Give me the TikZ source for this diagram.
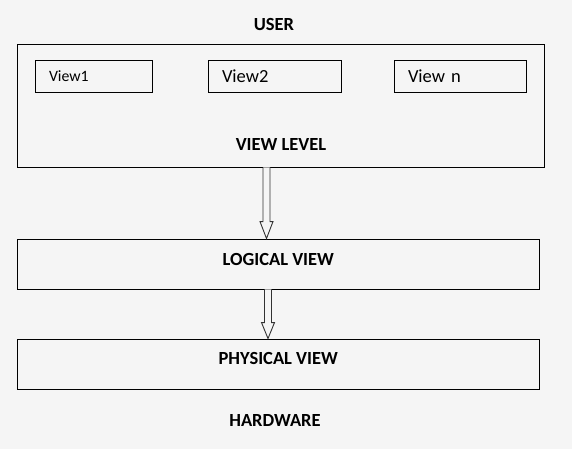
\documentclass[tikz,border=0pt]{standalone}
\usepackage{fontspec}
\setmainfont{Carlito}
\usetikzlibrary{calc}
\definecolor{paper}{RGB}{245,245,245}
\definecolor{arrowline}{RGB}{50,50,50}

\begin{document}
\begin{tikzpicture}[x=1pt, y=-1pt,
  lbl/.style={font=\fontsize{18.5}{21}\selectfont\bfseries, inner sep=0pt},
  box/.style={draw, line width=0.9pt, inner sep=0pt},
  viewbox/.style={box, minimum height=32pt, inner xsep=14pt, align=left,
    font=\fontsize{18.5}{21}\selectfont},
  hollow/.style={draw=arrowline, line width=0.9pt, fill=paper}]
\useasboundingbox (0,0) rectangle (572,449);
\fill[paper] (0,0) rectangle (572,449);

\node[lbl] (user) at (274,25) {USER};

\node[box, minimum width=526.5pt, minimum height=123pt] (level) at (280.75,105.5) {};
\node[viewbox, text width=89.5pt, font=\fontsize{15.8}{18}\selectfont] (view1) at (93.75,76) {View1};
\node[viewbox, text width=105.5pt] (view2) at (274.75,76) {View2};
\node[viewbox, text width=104.5pt] (viewn) at (460.25,76) {View n};
\node[lbl] (levelname) at (281,145) {VIEW LEVEL};

\node[box, minimum width=521.5pt, minimum height=50pt,
  label={[lbl, yshift=5pt]center:LOGICAL VIEW}] (logical) at (278.25,264) {};
\node[box, minimum width=521.5pt, minimum height=50pt,
  label={[lbl, yshift=6pt]center:PHYSICAL VIEW}] (physical) at (278.25,364) {};

\node[lbl] (hardware) at (275,420) {HARDWARE};

% block arrows between the levels
\coordinate (a1) at (266.5,0);
\coordinate (a2) at (268,0);
\draw[hollow] ($(level.south -| a1)+(-3.5,0)$) |- ($(logical.north -| a1)+(-6.5,-17)$)
  -- (logical.north -| a1) -- ++(6.5,-17) -| ($(level.south -| a1)+(3.5,0)$);
\draw[hollow] ($(logical.south -| a2)+(-3.5,0)$) |- ($(physical.north -| a2)+(-6.5,-16)$)
  -- (physical.north -| a2) -- ++(6.5,-16) -| ($(logical.south -| a2)+(3.5,0)$);

\end{tikzpicture}
\end{document}
